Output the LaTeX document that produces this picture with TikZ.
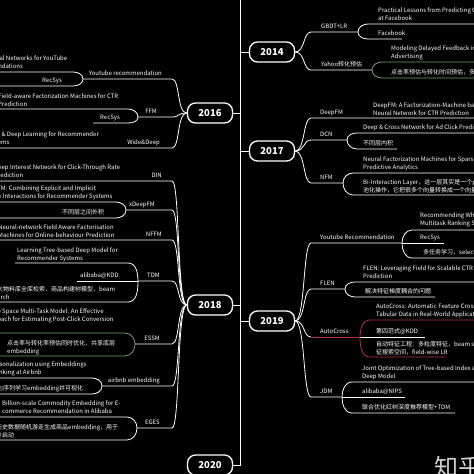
\documentclass[tikz,border=0pt]{standalone}
\usepackage{fontspec}
\setmainfont{Noto Sans CJK SC}
\usetikzlibrary{positioning}
\definecolor{acred}{RGB}{185,48,60}
\definecolor{tgreen}{RGB}{118,158,112}
\tikzset{
	ln/.style={draw=white,line width=0.8pt},
	lnr/.style={draw=acred,line width=0.8pt},
	lng/.style={draw=tgreen,line width=0.8pt},
	year/.style={draw=white,line width=1.3pt,fill=black,rounded corners=8pt,minimum width=45pt,minimum height=20pt,inner sep=0pt,text=white,font=\bfseries\fontsize{9.5}{10}\selectfont},
	tx/.style={inner sep=0pt,text=white,font=\fontsize{6}{8}\selectfont},
	labL/.style={tx,text depth=3.5pt,anchor=south east},
	labR/.style={tx,text depth=3.5pt,anchor=south west},
	lf/.style={tx,text depth=3.5pt,anchor=south west},
	ttl/.style={tx,align=left,anchor=north west}
}
\begin{document}
\begin{tikzpicture}[x=1pt,y=-1pt]
	\fill[black] (0,0) rectangle (474,474);
	\useasboundingbox (0,0) rectangle (474,474);
	\clip (0,0) rectangle (474,474);

	\coordinate (top) at (240,0);
	\coordinate (bot) at (240,465);
	\coordinate (jl) at (172,0);
	\coordinate (jr) at (311,0);

	\node[year] (y2014) at (272,52) {2014};
	\node[year] (y2016) at (210,113) {2016};
	\node[year] (y2017) at (272,151) {2017};
	\node[year] (y2018) at (210,305) {2018};
	\node[year] (y2019) at (272,321) {2019};
	\node[year] (y2020) at (210,465) {2020};

	\draw[ln] (top) -- (bot) -- (y2020.east);
	\foreach \y in {y2014,y2017,y2019} \draw[ln] (\y.west) -- (\y.west -| top);
	\foreach \y in {y2016,y2018} \draw[ln] (\y.east) -- (\y.east -| top);

	% 2014
	\node[labR] (gbdt) at (321,32) {GBDT+LR};
	\coordinate (bG) at (358,32);
	\draw[ln] (y2014.east) .. controls +(10,0) and +(-8,0) .. (gbdt.south -| jr) -- (bG);
	\draw[ln] (bG) to[out=90,in=180] ++(10,-8) -- ++(110,0);
	\draw[ln] (bG) to[out=-90,in=180] ++(10,7) -- ++(34,0);
	\node[ttl] (gA) at (378,7.5) {Practical Lessons from Predicting Clicks on Ads\\at Facebook};
	\node[lf] (gB) at (378,39) {Facebook};

	\node[labR] (yahoo) at (321,70) {Yahoo转化预估};
	\coordinate (bY) at (372,70);
	\draw[ln] (y2014.east) .. controls +(10,0) and +(-8,0) .. (yahoo.south -| jr) -- (bY);
	\draw[lng] (bY) to[out=90,in=180] ++(10,-8) -- ++(100,0);
	\draw[lng] (bY) to[out=-90,in=180] ++(10,8) -- ++(100,0);
	\node[ttl] (yA) at (391,45.5) {Modeling Delayed Feedback in Display\\Advertising};
	\node[lf] (yB) at (391,78) {点击率预估与转化时间预估，多任务学习};

	% 2017
	\node[labR] (dfm) at (320,118) {DeepFM};
	\draw[ln] (y2017.east) .. controls +(10,0) and +(-8,0) .. (dfm.south -| jr) -- ++(180,0);
	\node[ttl] (dfmA) at (373,102.5) {DeepFM: A Factorization-Machine based\\Neural Network for CTR Prediction};

	\node[labR] (dcn) at (320,140) {DCN};
	\coordinate (bD) at (347,140);
	\draw[ln] (y2017.east) .. controls +(10,0) and +(-8,0) .. (dcn.south -| jr) -- (bD);
	\draw[ln] (bD) to[out=90,in=180] ++(10,-7) -- ++(130,0);
	\draw[ln] (bD) to[out=-90,in=180] ++(10,9) -- ++(40,0);
	\node[lf] (dA) at (363,133) {Deep \& Cross Network for Ad Click Predictions};
	\node[lf] (dB) at (363,149) {不同层内积};

	\node[labR] (nfm) at (320,183) {NFM};
	\coordinate (bN) at (343,183);
	\draw[ln] (y2017.east) .. controls +(10,0) and +(-8,0) .. (nfm.south -| jr) -- (bN);
	\draw[ln] (bN) to[out=90,in=180] ++(10,-10) -- ++(130,0);
	\draw[ln] (bN) to[out=-90,in=180] ++(10,12) -- ++(130,0);
	\node[ttl] (nA) at (363,156) {Neural Factorization Machines for Sparse\\Predictive Analytics};
	\node[ttl] (nB) at (363,179) {Bi-Interaction Layer，这一层其实是一个pooling\\池化操作，它把很多个向量转换成一个向量};

	% 2019
	\node[labR] (ytr) at (320,243) {Youtube Recommendation};
	\coordinate (bYr) at (402,243);
	\draw[ln] (y2019.east) .. controls +(10,0) and +(-8,0) .. (ytr.south -| jr) -- (bYr);
	\draw[ln] (bYr) to[out=90,in=180] ++(10,-13) -- ++(70,0);
	\draw[ln] (bYr) -- ++(42,0);
	\draw[ln] (bYr) to[out=-90,in=180] ++(10,15) -- ++(70,0);
	\node[ttl] (yrA) at (420,212.5) {Recommending What Video to Watch Next: A\\Multitask Ranking System};
	\node[lf] (yrB) at (420,243) {RecSys};
	\node[lf] (yrC) at (423,258) {多任务学习，selection bias};

	\node[labR] (flen) at (320,289) {FLEN};
	\coordinate (bF) at (345,289);
	\draw[ln] (y2019.east) .. controls +(10,0) and +(-8,0) .. (flen.south -| jr) -- (bF);
	\draw[ln] (bF) to[out=90,in=180] ++(10,-7) -- ++(130,0);
	\draw[ln] (bF) to[out=-90,in=180] ++(10,8) -- ++(80,0);
	\node[ttl] (fA) at (363,265.5) {FLEN: Leveraging Field for Scalable CTR\\Prediction};
	\node[lf] (fB) at (365,297) {解决特征梯度耦合的问题};

	\node[labR] (ac) at (320,337) {AutoCross};
	\coordinate (bA) at (360,337);
	\draw[ln] (y2019.east) .. controls +(10,0) and +(-8,0) .. (ac.south -| jr);
	\draw[lnr] (ac.south -| jr) -- (bA);
	\draw[lnr] (bA) to[out=90,in=180] ++(10,-17) -- ++(110,0);
	\draw[ln] (bA) -- ++(65,0);
	\draw[lnr] (bA) to[out=-90,in=180] ++(10,20) -- ++(75,0);
	\node[ttl] (aA) at (376,303.5) {AutoCross: Automatic Feature Crossing from\\Tabular Data in Real-World Applications};
	\node[lf] (aB) at (376,337) {第四范式@KDD};
	\node[ttl] (aC) at (376,341) {自动特征工程：多粒度特征，beam search缩小特\\征搜索空间，field-wise LR};

	\node[labR] (jdm) at (320,397) {JDM};
	\coordinate (bJ) at (342,397);
	\draw[ln] (y2019.east) .. controls +(10,0) and +(-8,0) .. (jdm.south -| jr) -- (bJ);
	\draw[ln] (bJ) to[out=90,in=180] ++(10,-15) -- ++(130,0);
	\draw[ln] (bJ) -- ++(63,0);
	\draw[ln] (bJ) to[out=-90,in=180] ++(10,16) -- ++(103,0);
	\node[ttl] (jA) at (362,365) {Joint Optimization of Tree-based Index and\\Deep Model};
	\node[lf] (jB) at (362,397) {alibaba@NIPS};
	\node[lf] (jC) at (362,413) {联合优化红树深度推荐模型+TDM};

	% 2016
	\node[labL] (ytL) at (162,79) {Youtube recommendation};
	\coordinate (bYt) at (83,79);
	\draw[ln] (y2016.west) .. controls +(-10,0) and +(8,0) .. (ytL.south -| jl) -- (bYt);
	\draw[ln] (bYt) to[out=90,in=0] ++(-10,-7) -- ++(-90,0);
	\draw[ln] (bYt) to[out=-90,in=0] ++(-10,7) -- ++(-90,0);
	\node[ttl] (ytA) at (-30,55.5) {Deep Neural Networks for YouTube\\Recommendations};
	\node[lf,anchor=south] (ytB) at (52,86) {RecSys};

	\node[labL] (ffmL) at (157,117) {FFM};
	\coordinate (bFfm) at (138,117);
	\draw[ln] (y2016.west) .. controls +(-10,0) and +(8,0) .. (ffmL.south -| jl) -- (bFfm);
	\draw[ln] (bFfm) to[out=90,in=0] ++(-10,-8) -- ++(-140,0);
	\draw[ln] (bFfm) to[out=-90,in=0] ++(-10,6) -- ++(-35,0);
	\node[ttl] (ffmA) at (-2,93.5) {Field-aware Factorization Machines for CTR\\Prediction};
	\node[lf] (ffmB) at (100,123) {RecSys};

	\node[labL] (wdL) at (160,148) {Wide\&Deep};
	\draw[ln] (y2016.west) .. controls +(-10,0) and +(8,0) .. (wdL.south -| jl) -- ++(-190,0);
	\node[ttl] (wdA) at (-14,131.5) {Wide \& Deep Learning for Recommender\\Systems};

	% 2018
	\node[labL] (dinL) at (162,181) {DIN};
	\draw[ln] (y2018.west) .. controls +(-10,0) and +(8,0) .. (dinL.south -| jl) -- ++(-190,0);
	\node[ttl] (dinA) at (-6,164.5) {Deep Interest Network for Click-Through Rate\\Prediction};

	\node[labL] (xdfL) at (155,210) {xDeepFM};
	\coordinate (bX) at (126,210);
	\draw[ln] (y2018.west) .. controls +(-10,0) and +(8,0) .. (xdfL.south -| jl) -- (bX);
	\draw[ln] (bX) to[out=90,in=0] ++(-10,-8) -- ++(-130,0);
	\draw[ln] (bX) to[out=-90,in=0] ++(-10,8) -- ++(-130,0);
	\node[ttl] (xdfA) at (-20,186) {xDeepFM: Combining Explicit and Implicit\\Feature Interactions for Recommender Systems};
	\node[lf] (xdfB) at (62,218) {不同层之间外积};

	\node[labL] (nffmL) at (162,240) {NFFM};
	\draw[ln] (y2018.west) .. controls +(-10,0) and +(8,0) .. (nffmL.south -| jl) -- ++(-190,0);
	\node[ttl] (nffmA) at (-2,224.5) {Neural-network Field Aware Factorisation\\Machines for Online-behaviour Prediction};

	\node[labL] (tdmL) at (160,281) {TDM};
	\coordinate (bT) at (138,281);
	\draw[ln] (y2018.west) .. controls +(-10,0) and +(8,0) .. (tdmL.south -| jl) -- (bT);
	\draw[ln] (bT) to[out=90,in=0] ++(-10,-18) -- ++(-113,0);
	\draw[ln] (bT) -- ++(-61,0);
	\draw[ln] (bT) to[out=-90,in=0] ++(-10,21) -- ++(-140,0);
	\node[ttl] (tdmA) at (17,247) {Learning Tree-based Deep Model for\\Recommender Systems};
	\node[lf] (tdmB) at (80,281) {alibaba@KDD};
	\node[ttl] (tdmC) at (-9,286.5) {为大物料库全库检索，商品构建树模型，beam\\search};

	\node[labL] (esmL) at (160,344) {ESSM};
	\coordinate (bE) at (135,344);
	\draw[ln] (y2018.west) .. controls +(-10,0) and +(8,0) .. (esmL.south -| jl) -- (bE);
	\draw[lng] (bE) to[out=90,in=0] ++(-10,-11) -- ++(-135,0);
	\draw[lng] (bE) to[out=-90,in=0] ++(-10,12) -- ++(-135,0);
	\node[ttl] (esmA) at (-16,308.5) {Entire Space Multi-Task Model: An Effective\\Approach for Estimating Post-Click Conversion\\Rate};
	\node[ttl] (esmB) at (7,340) {点击率与转化率预估同时优化，共享底层\\embedding};

	\node[labL] (abL) at (160,386) {airbnb embedding};
	\coordinate (bAb) at (102,386);
	\draw[ln] (y2018.west) .. controls +(-10,0) and +(8,0) .. (abL.south -| jl) -- (bAb);
	\draw[ln] (bAb) to[out=90,in=0] ++(-10,-8) -- ++(-100,0);
	\draw[ln] (bAb) to[out=-90,in=0] ++(-10,8) -- ++(-100,0);
	\node[ttl] (abA) at (-38,362) {Real-time Personalization using Embeddings\\for Search Ranking at Airbnb};
	\node[lf] (abB) at (-21,394) {用户行为序列学习embedding并可视化};

	\node[labL] (egL) at (160,428) {EGES};
	\coordinate (bEg) at (137,428);
	\draw[ln] (y2018.west) .. controls +(-10,0) and +(8,0) .. (egL.south -| jl) -- (bEg);
	\draw[ln] (bEg) to[out=90,in=0] ++(-10,-11) -- ++(-135,0);
	\draw[ln] (bEg) to[out=-90,in=0] ++(-10,12) -- ++(-135,0);
	\node[ttl] (egA) at (2,400.5) {Billion-scale Commodity Embedding for E-\\commerce Recommendation in Alibaba};
	\node[ttl] (egB) at (-16,424) {通过历史数据随机游走生成商品embedding，用于\\商品冷启动};

	\node[tx,anchor=north west,text=white!82!black,font=\fontsize{24}{24}\selectfont] (zhihu) at (434,456) {知乎};
\end{tikzpicture}
\end{document}
